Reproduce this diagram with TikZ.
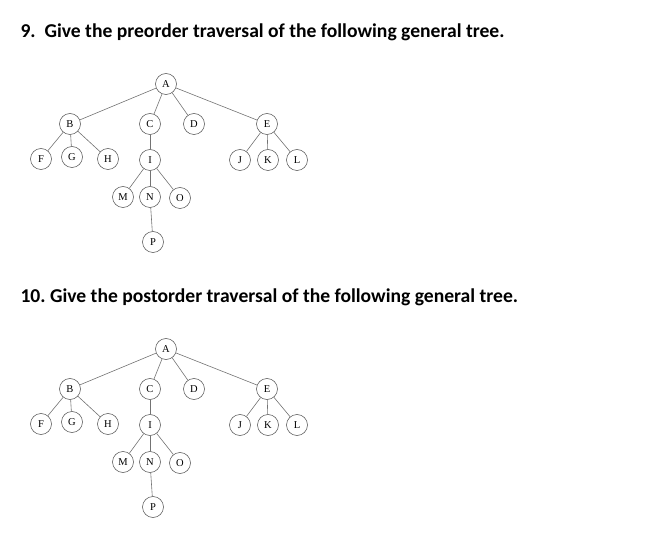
\documentclass[tikz,border=0pt]{standalone}
\usepackage{fontspec}
\setmainfont{Carlito}
\newfontfamily\treefont{Liberation Serif}
\begin{document}
\begin{tikzpicture}[x=1pt,y=-1pt,
  tn/.style={circle,draw=black!70,line width=0.5pt,fill=white,minimum size=21pt,inner sep=0pt,font=\treefont\fontsize{10.5}{10.5}\selectfont},
  ed/.style={draw=black!55,line width=0.6pt},
  ttl/.style={anchor=west,font=\fontsize{19.6}{21}\selectfont\bfseries}]
\useasboundingbox (0,0) rectangle (662,548);
\node[ttl] (t9) at (17,32) {9.\ \ Give the preorder traversal of the following general tree.};
\node[ttl] (t10) at (17,297) {10.\ Give the postorder traversal of the following general tree.};
\foreach \dy/\p in {0/a,265/b}{
\begin{scope}[yshift=-\dy]
\node[tn] (\p A) at (166,84) {A};
\node[tn] (\p B) at (70,124) {B};
\node[tn] (\p C) at (150,124) {C};
\node[tn] (\p D) at (194,124) {D};
\node[tn] (\p E) at (267,124) {E};
\node[tn] (\p F) at (41,159) {F};
\node[tn] (\p G) at (72,157) {G};
\node[tn] (\p H) at (108,159) {H};
\node[tn] (\p I) at (150,160) {I};
\node[tn] (\p J) at (240,160) {J};
\node[tn] (\p K) at (268,160) {K};
\node[tn] (\p L) at (297,160) {L};
\node[tn] (\p M) at (123,197) {M};
\node[tn] (\p N) at (150,197) {N};
\node[tn] (\p O) at (180,198) {O};
\node[tn] (\p P) at (153,242) {P};
\foreach \u/\v in {A/B,A/C,A/D,A/E,B/F,B/G,B/H,C/I,E/J,E/K,E/L,I/M,I/N,I/O,N/P}
  \draw[ed] (\p\u) -- (\p\v);
\end{scope}}
\end{tikzpicture}
\end{document}
